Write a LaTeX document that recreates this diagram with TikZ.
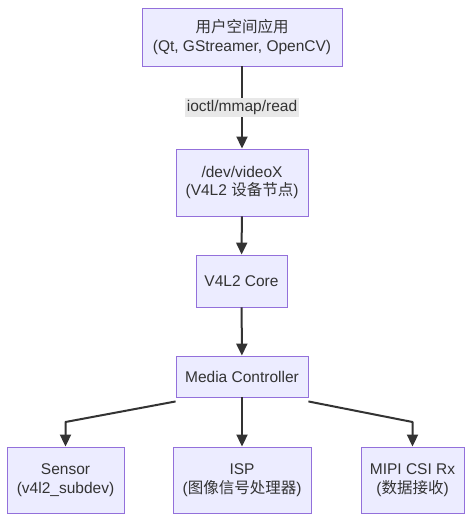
\documentclass[tikz,border=0pt]{standalone}
\usepackage{fontspec}
\setmainfont{Liberation Sans}
\newfontfamily\cjk{Noto Sans CJK SC}
\usepackage{tikz}
\usetikzlibrary{arrows.meta, positioning}

\definecolor{boxfill}{HTML}{ECECFF}
\definecolor{boxline}{HTML}{9370DB}
\definecolor{inkgray}{HTML}{333333}
\definecolor{labelbg}{HTML}{E8E8E8}

\begin{document}
\begin{tikzpicture}[
    x=1pt, y=-1pt,
    box/.style={draw=boxline, fill=boxfill, line width=0.9pt, inner sep=0pt,
        align=center, text=inkgray,
        font=\fontsize{15.5}{18.5}\selectfont},
    arr/.style={-{Triangle[length=12pt, width=11pt]}, line width=2pt, inkgray},
    lbl/.style={fill=labelbg, inner sep=2pt, text=inkgray,
        font=\fontsize{15.5}{18.5}\selectfont}
]
    \useasboundingbox[fill=white] (0,0) rectangle (472,521);

    % Top of the stack
    \node[box, minimum width=200pt, minimum height=58pt] (app) at (242,37)
        {{\cjk 用户空间应用}\\(Qt, GStreamer, OpenCV)};
    \node[box, minimum width=132pt, minimum height=67pt] (video) at (242,182.5)
        {/dev/videoX\\(V4L2 {\cjk 设备节点})};
    \node[box, minimum width=91pt, minimum height=52pt] (core) at (241.5,281)
        {V4L2 Core};
    \node[box, minimum width=132pt, minimum height=41pt] (mc) at (242,376.5)
        {Media Controller};

    % Sub-devices
    \node[box, minimum width=117pt, minimum height=66pt] (sensor) at (65.5,480)
        {Sensor\\(v4l2\_subdev)};
    \node[box, minimum width=138pt, minimum height=66pt] (isp) at (242,480)
        {ISP\\({\cjk 图像信号处理器})};
    \node[box, minimum width=103pt, minimum height=66pt] (mipi) at (412.5,480)
        {MIPI CSI Rx\\({\cjk 数据接收})};

    % Vertical chain
    \draw[arr] (app) -- node[lbl] (ioctl) {ioctl/mmap/read} (video);
    \draw[arr] (video) -- (core);
    \draw[arr] (core) -- (mc);

    % Fan-out to sub-devices
    \coordinate (lstart) at ([yshift=-4pt]mc.south west);
    \coordinate (rstart) at ([yshift=-4pt]mc.south east);
    \coordinate (lbend) at (sensor.north |- 0,422);
    \coordinate (rbend) at (mipi.north |- 0,422);
    \draw[arr, line join=round] (lstart) -- (lbend) -- (sensor.north);
    \draw[arr] (mc) -- (isp);
    \draw[arr, line join=round] (rstart) -- (rbend) -- (mipi.north);

\end{tikzpicture}
\end{document}
